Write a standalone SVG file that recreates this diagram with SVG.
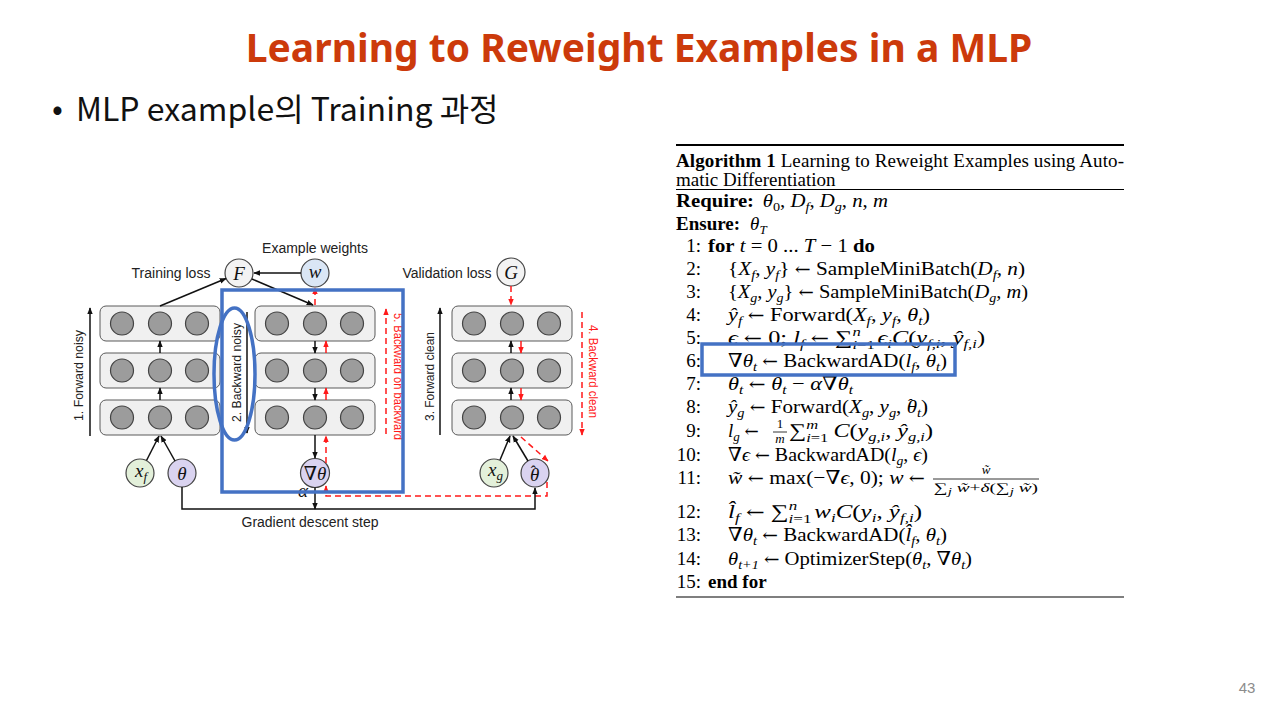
<svg xmlns="http://www.w3.org/2000/svg" xmlns:xlink="http://www.w3.org/1999/xlink" width="1280" height="720" viewBox="0 0 1280 720">
<defs>
<style>
.title{font-family:"Noto Sans","Noto Sans CJK KR",sans-serif;font-weight:bold;font-size:39px;fill:#cc3a0b}
.bul{font-family:"Noto Sans CJK KR","Noto Sans",sans-serif;font-size:32px;fill:#111}
.lbl{font-family:"Liberation Sans",Arial,sans-serif;font-size:14px;fill:#222}
.vl{font-family:"Liberation Sans",Arial,sans-serif;font-size:12px;fill:#222}
.vr{font-family:"Liberation Sans",Arial,sans-serif;font-size:12px;fill:#ff1a1a}
.lay{fill:#f0f0f0;stroke:#5a5a5a;stroke-width:1}
.neu{fill:#9c9c9c;stroke:#444;stroke-width:1.2}
.nd{stroke:#444;stroke-width:1.2}
.mt{font-family:"Liberation Serif","DejaVu Serif",serif;font-style:italic;font-size:19px;fill:#111}
.ln{fill:none;stroke:#111;stroke-width:1.5}
.rd{fill:none;stroke:#ff1a1a;stroke-width:1.5;stroke-dasharray:6 4}
.rs{fill:none;stroke:#ff1a1a;stroke-width:1.5}
.blue{fill:none;stroke:#4472c4;stroke-width:3.5}
.al{font-family:"Liberation Serif","DejaVu Serif",serif;font-size:19px;fill:#000}
.ar{font-family:"DejaVu Serif",serif;font-size:17px}
.b{font-weight:bold}
.i{font-style:italic}
.s{font-size:13px}
.rule{stroke:#000}
</style>
<marker id="ab" viewBox="0 0 10 10" refX="9" refY="5" markerWidth="7" markerHeight="7" markerUnits="userSpaceOnUse" orient="auto"><path d="M0,1 L10,5 L0,9 z" fill="#111"/></marker>
<marker id="ar" viewBox="0 0 10 10" refX="9" refY="5" markerWidth="7" markerHeight="7" markerUnits="userSpaceOnUse" orient="auto"><path d="M0,1 L10,5 L0,9 z" fill="#ff1a1a"/></marker>
<g id="layer">
<rect class="lay" x="0" y="0" width="120" height="35" rx="6"/>
<circle class="neu" cx="22" cy="17.5" r="11.5"/>
<circle class="neu" cx="60" cy="17.5" r="11.5"/>
<circle class="neu" cx="97" cy="17.5" r="11.5"/>
</g>
</defs>
<rect width="1280" height="720" fill="#fff"/>

<text class="title" x="639" y="62" text-anchor="middle">Learning to Reweight Examples in a MLP</text>
<text class="bul" x="52" y="120">•</text>
<text class="bul" x="76" y="121">MLP example의 Training 과정</text>

<!-- layers -->
<g id="left-l1"><use xlink:href="#layer" x="100" y="306"/></g>
<g id="left-l2"><use xlink:href="#layer" x="100" y="353"/></g>
<g id="left-l3"><use xlink:href="#layer" x="100" y="400"/></g>
<g id="mid-l1"><use xlink:href="#layer" x="255" y="306"/></g>
<g id="mid-l2"><use xlink:href="#layer" x="255" y="353"/></g>
<g id="mid-l3"><use xlink:href="#layer" x="255" y="400"/></g>
<g id="right-l1"><use xlink:href="#layer" x="452" y="306"/></g>
<g id="right-l2"><use xlink:href="#layer" x="452" y="353"/></g>
<g id="right-l3"><use xlink:href="#layer" x="452" y="400"/></g>

<!-- nodes -->
<g id="node-F"><circle class="nd" cx="239" cy="273" r="14" fill="#f3f3f3"/><text class="mt" x="239" y="279.5" text-anchor="middle">F</text></g>
<g id="node-w"><circle class="nd" cx="315" cy="273" r="14" fill="#dae6f5"/><text class="mt" x="315" y="278" text-anchor="middle">w</text></g>
<g id="node-G"><circle class="nd" cx="511" cy="272" r="14" fill="#f3f3f3"/><text class="mt" x="511" y="278.5" text-anchor="middle">G</text></g>
<g id="node-xf"><circle class="nd" cx="140" cy="473" r="14" fill="#e3f0da"/><text class="mt" x="135" y="477">x<tspan font-size="13" dy="4">f</tspan></text></g>
<g id="node-theta"><circle class="nd" cx="182" cy="473" r="14" fill="#dad3f0"/><text class="mt" x="182" y="479.5" text-anchor="middle">θ</text></g>
<g id="node-gradtheta"><circle class="nd" cx="315" cy="473" r="14.5" fill="#dad3f0"/><text class="mt" x="315" y="479.5" text-anchor="middle"><tspan font-style="normal">∇</tspan>θ</text></g>
<g id="node-xg"><circle class="nd" cx="494" cy="473" r="14" fill="#e3f0da"/><text class="mt" x="488" y="476">x<tspan font-size="13" dy="4">g</tspan></text></g>
<g id="node-thetahat"><circle class="nd" cx="535" cy="473" r="14" fill="#dad3f0"/><text class="mt" x="530" y="481">θ<tspan dx="-8.5" dy="-4" font-size="16" font-style="normal">ˆ</tspan></text></g>

<!-- labels -->
<text class="lbl" x="315" y="253" text-anchor="middle">Example weights</text>
<text class="lbl" x="171" y="278" text-anchor="middle">Training loss</text>
<text class="lbl" x="447" y="278" text-anchor="middle">Validation loss</text>
<text class="lbl" x="310" y="527" text-anchor="middle">Gradient descent step</text>
<text class="mt" x="303" y="497" font-size="13" text-anchor="middle">α</text>
<text class="vl" transform="translate(83,375.5) rotate(-90)" text-anchor="middle" textLength="91" lengthAdjust="spacingAndGlyphs">1. Forward noisy</text>
<text class="vl" transform="translate(241,372.5) rotate(-90)" text-anchor="middle" textLength="99" lengthAdjust="spacingAndGlyphs">2. Backward noisy</text>
<text class="vl" transform="translate(434,376.5) rotate(-90)" text-anchor="middle" textLength="89" lengthAdjust="spacingAndGlyphs">3. Forward clean</text>
<text class="vr" transform="translate(589,371.5) rotate(90)" text-anchor="middle" textLength="93" lengthAdjust="spacingAndGlyphs">4. Backward clean</text>
<text class="vr" transform="translate(393.5,376.5) rotate(90)" text-anchor="middle" textLength="127" lengthAdjust="spacingAndGlyphs">5. Backward on backward</text>

<!-- connectors -->
<g id="connectors">
<line class="ln" x1="90" y1="436" x2="90" y2="308" marker-end="url(#ab)"/>
<line class="ln" x1="247" y1="312" x2="247" y2="433" marker-end="url(#ab)"/>
<line class="ln" x1="440" y1="435" x2="440" y2="308" marker-end="url(#ab)"/>
<line class="rd" x1="386" y1="434" x2="386" y2="309" marker-end="url(#ar)"/>
<line class="rd" x1="582" y1="312" x2="582" y2="435" marker-end="url(#ar)"/>

<line class="ln" x1="301" y1="273" x2="254" y2="273" marker-end="url(#ab)"/>
<line class="ln" x1="160" y1="306" x2="226" y2="278.5" marker-end="url(#ab)"/>
<line class="ln" x1="252" y1="279" x2="313" y2="305" marker-end="url(#ab)"/>
<line class="rd" x1="315" y1="305" x2="315" y2="288" marker-end="url(#ar)" stroke-dasharray="4 3"/>

<line class="ln" x1="160" y1="353" x2="160" y2="341" marker-end="url(#ab)"/>
<line class="ln" x1="160" y1="400" x2="160" y2="388" marker-end="url(#ab)"/>
<line class="ln" x1="146.5" y1="460.5" x2="159" y2="436" marker-end="url(#ab)"/>
<line class="ln" x1="175" y1="461" x2="161" y2="436" marker-end="url(#ab)"/>

<line class="ln" x1="315" y1="341" x2="315" y2="353" marker-end="url(#ab)"/>
<line class="ln" x1="315" y1="388" x2="315" y2="400" marker-end="url(#ab)"/>
<line class="ln" x1="315" y1="435" x2="315" y2="458" marker-end="url(#ab)"/>
<line class="rs" x1="326" y1="353" x2="326" y2="341" marker-end="url(#ar)"/>
<line class="rs" x1="326" y1="400" x2="326" y2="388" marker-end="url(#ar)"/>
<line class="rd" x1="326" y1="463" x2="326" y2="436" marker-end="url(#ar)"/>
<path class="rd" d="M547,482 V496 H326 V486" marker-end="url(#ar)"/>

<line class="rd" x1="511" y1="286" x2="511" y2="305" marker-end="url(#ar)" stroke-dasharray="4 3"/>
<line class="ln" x1="511" y1="353" x2="511" y2="341" marker-end="url(#ab)"/>
<line class="ln" x1="511" y1="400" x2="511" y2="388" marker-end="url(#ab)"/>
<line class="rs" x1="521" y1="341" x2="521" y2="353" marker-end="url(#ar)"/>
<line class="rs" x1="521" y1="388" x2="521" y2="400" marker-end="url(#ar)"/>
<line class="ln" x1="500" y1="460" x2="510" y2="436" marker-end="url(#ab)"/>
<line class="ln" x1="528" y1="461" x2="513" y2="436" marker-end="url(#ab)"/>
<line class="rd" x1="521" y1="437" x2="548" y2="461" marker-end="url(#ar)"/>

<path class="ln" d="M182,487 V509 H535 V488" marker-end="url(#ab)"/>
<line class="ln" x1="315" y1="487.5" x2="315" y2="509" marker-end="url(#ab)"/>
</g>

<!-- highlight shapes -->
<rect class="blue" x="222" y="290" width="181" height="202"/>
<ellipse class="blue" cx="234.5" cy="374" rx="20.5" ry="66"/>

<!-- algorithm -->
<g id="algorithm">
<line class="rule" x1="676" y1="145" x2="1124" y2="145" stroke-width="2"/>
<line class="rule" x1="676" y1="189.5" x2="1124" y2="189.5" stroke-width="1.2"/>
<line class="rule" x1="676" y1="597" x2="1124" y2="597" stroke-width="1.2"/>
<text class="al" x="676" y="166.5" textLength="448"><tspan class="b">Algorithm 1</tspan> Learning to Reweight Examples using Auto-</text>
<text class="al" x="676" y="185.5">matic Differentiation</text>
<text class="al" x="676" y="207" textLength="212" lengthAdjust="spacingAndGlyphs"><tspan class="b">Require:</tspan><tspan dx="8" class="i">θ</tspan><tspan class="s" dy="4">0</tspan><tspan dy="-4">, </tspan><tspan class="i">D</tspan><tspan class="s i" dy="4">f</tspan><tspan dy="-4">, </tspan><tspan class="i">D</tspan><tspan class="s i" dy="4">g</tspan><tspan dy="-4">, </tspan><tspan class="i">n</tspan>, <tspan class="i">m</tspan></text>
<text class="al" x="676" y="230"><tspan class="b">Ensure:</tspan><tspan dx="10" class="i">θ</tspan><tspan class="s i" dy="4">T</tspan></text>

<g id="linenos">
<text class="al" x="701" y="252" text-anchor="end">1:</text>
<text class="al" x="701" y="275" text-anchor="end">2:</text>
<text class="al" x="701" y="298" text-anchor="end">3:</text>
<text class="al" x="701" y="321" text-anchor="end">4:</text>
<text class="al" x="701" y="344" text-anchor="end">5:</text>
<text class="al" x="701" y="367" text-anchor="end">6:</text>
<text class="al" x="701" y="390" text-anchor="end">7:</text>
<text class="al" x="701" y="413" text-anchor="end">8:</text>
<text class="al" x="701" y="437" text-anchor="end">9:</text>
<text class="al" x="701" y="461" text-anchor="end">10:</text>
<text class="al" x="701" y="484" text-anchor="end">11:</text>
<text class="al" x="701" y="518" text-anchor="end">12:</text>
<text class="al" x="701" y="541" text-anchor="end">13:</text>
<text class="al" x="701" y="565" text-anchor="end">14:</text>
<text class="al" x="701" y="588" text-anchor="end">15:</text>
</g>

<text class="al" x="708" y="252" textLength="167" lengthAdjust="spacingAndGlyphs"><tspan class="b">for</tspan> <tspan class="i">t</tspan> = 0 ... <tspan class="i">T</tspan> − 1 <tspan class="b">do</tspan></text>
<text class="al" x="728" y="275" textLength="297" lengthAdjust="spacingAndGlyphs">{<tspan class="i">X</tspan><tspan class="s i" dy="4">f</tspan><tspan dy="-4">, </tspan><tspan class="i">y</tspan><tspan class="s i" dy="4">f</tspan><tspan dy="-4">} </tspan><tspan class="ar">←</tspan> SampleMiniBatch(<tspan class="i">D</tspan><tspan class="s i" dy="4">f</tspan><tspan dy="-4">, </tspan><tspan class="i">n</tspan>)</text>
<text class="al" x="728" y="298" textLength="300" lengthAdjust="spacingAndGlyphs">{<tspan class="i">X</tspan><tspan class="s i" dy="4">g</tspan><tspan dy="-4">, </tspan><tspan class="i">y</tspan><tspan class="s i" dy="4">g</tspan><tspan dy="-4">} </tspan><tspan class="ar">←</tspan> SampleMiniBatch(<tspan class="i">D</tspan><tspan class="s i" dy="4">g</tspan><tspan dy="-4">, </tspan><tspan class="i">m</tspan>)</text>
<text class="al" x="728" y="321" textLength="202" lengthAdjust="spacingAndGlyphs"><tspan class="i">ŷ</tspan><tspan class="s i" dy="4">f</tspan><tspan dy="-4"> </tspan><tspan class="ar">←</tspan> Forward(<tspan class="i">X</tspan><tspan class="s i" dy="4">f</tspan><tspan dy="-4">, </tspan><tspan class="i">y</tspan><tspan class="s i" dy="4">f</tspan><tspan dy="-4">, </tspan><tspan class="i">θ</tspan><tspan class="s i" dy="4">t</tspan><tspan dy="-4">)</tspan></text>
<text class="al" x="728" y="344" textLength="257" lengthAdjust="spacingAndGlyphs"><tspan class="i">ϵ</tspan> <tspan class="ar">←</tspan> 0; <tspan class="i">l</tspan><tspan class="s i" dy="4">f</tspan><tspan dy="-4"> </tspan><tspan class="ar">←</tspan> ∑<tspan class="s i" dy="5">i</tspan><tspan class="s">=1</tspan><tspan class="s i" dx="-17.4" dy="-13">n</tspan><tspan class="i" dx="13" dy="8">ϵ</tspan><tspan class="s i" dy="4">i</tspan><tspan class="i" dy="-4">C</tspan>(<tspan class="i">y</tspan><tspan class="s i" dy="4">f,i</tspan><tspan dy="-4">, </tspan><tspan class="i">ŷ</tspan><tspan class="s i" dy="4">f,i</tspan><tspan dy="-4">)</tspan></text>
<text class="al" x="728" y="367" textLength="219" lengthAdjust="spacingAndGlyphs">∇<tspan class="i">θ</tspan><tspan class="s i" dy="4">t</tspan><tspan dy="-4"> </tspan><tspan class="ar">←</tspan> BackwardAD(<tspan class="i">l</tspan><tspan class="s i" dy="4">f</tspan><tspan dy="-4">, </tspan><tspan class="i">θ</tspan><tspan class="s i" dy="4">t</tspan><tspan dy="-4">)</tspan></text>
<text class="al" x="728" y="390" textLength="125" lengthAdjust="spacingAndGlyphs"><tspan class="i">θ</tspan><tspan class="s i" dy="4">t</tspan><tspan dy="-4"> </tspan><tspan class="ar">←</tspan> <tspan class="i">θ</tspan><tspan class="s i" dy="4">t</tspan><tspan dy="-4"> − </tspan><tspan class="i">α</tspan>∇<tspan class="i">θ</tspan><tspan class="s i" dy="4">t</tspan></text>
<text class="al" x="728" y="413" textLength="200" lengthAdjust="spacingAndGlyphs"><tspan class="i">ŷ</tspan><tspan class="s i" dy="4">g</tspan><tspan dy="-4"> </tspan><tspan class="ar">←</tspan> Forward(<tspan class="i">X</tspan><tspan class="s i" dy="4">g</tspan><tspan dy="-4">, </tspan><tspan class="i">y</tspan><tspan class="s i" dy="4">g</tspan><tspan dy="-4">, </tspan><tspan class="i">θ</tspan><tspan dx="-8" dy="-4" font-size="15">ˆ</tspan><tspan class="s i" dx="3" dy="8">t</tspan><tspan dy="-4">)</tspan></text>
<text class="al" x="728" y="437"><tspan class="i">l</tspan><tspan class="s i" dy="4">g</tspan><tspan dy="-4"> </tspan><tspan class="ar">←</tspan></text>
<text class="al s" x="780" y="428" text-anchor="middle">1</text>
<line class="rule" x1="773" y1="432" x2="787" y2="432" stroke-width="0.8"/>
<text class="al s i" x="780" y="443" text-anchor="middle">m</text>
<text class="al" x="789" y="437" textLength="144" lengthAdjust="spacingAndGlyphs">∑<tspan class="s i" dy="5">i</tspan><tspan class="s">=1</tspan><tspan class="s i" dx="-17.4" dy="-13">m</tspan><tspan class="i" dx="12" dy="8">C</tspan>(<tspan class="i">y</tspan><tspan class="s i" dy="4">g,i</tspan><tspan dy="-4">, </tspan><tspan class="i">ŷ</tspan><tspan class="s i" dy="4">g,i</tspan><tspan dy="-4">)</tspan></text>
<text class="al" x="728" y="461" textLength="200" lengthAdjust="spacingAndGlyphs">∇<tspan class="i">ϵ</tspan> <tspan class="ar">←</tspan> BackwardAD(<tspan class="i">l</tspan><tspan class="s i" dy="4">g</tspan><tspan dy="-4">, </tspan><tspan class="i">ϵ</tspan>)</text>
<text class="al" x="728" y="484" textLength="197" lengthAdjust="spacingAndGlyphs"><tspan class="i">w̃</tspan> <tspan class="ar">←</tspan> max(−∇<tspan class="i">ϵ</tspan>, 0); <tspan class="i">w</tspan> <tspan class="ar">←</tspan></text>
<text class="al s i" x="986" y="474" text-anchor="middle">w̃</text>
<line class="rule" x1="933" y1="479" x2="1039" y2="479" stroke-width="0.8"/>
<text class="al s" x="986" y="492" text-anchor="middle" textLength="104" lengthAdjust="spacingAndGlyphs">∑<tspan class="i" font-size="10" dy="3">j</tspan><tspan class="i" dy="-3"> w̃</tspan>+<tspan class="i">δ</tspan>(∑<tspan class="i" font-size="10" dy="3">j</tspan><tspan class="i" dy="-3"> w̃</tspan>)</text>
<text class="al" x="728" y="518" textLength="194" lengthAdjust="spacingAndGlyphs"><tspan class="i">l̂</tspan><tspan class="s i" dy="4">f</tspan><tspan dy="-4"> </tspan><tspan class="ar">←</tspan> ∑<tspan class="s i" dy="5">i</tspan><tspan class="s">=1</tspan><tspan class="s i" dx="-17.4" dy="-13">n</tspan><tspan class="i" dx="13" dy="8">w</tspan><tspan class="s i" dy="4">i</tspan><tspan class="i" dy="-4">C</tspan>(<tspan class="i">y</tspan><tspan class="s i" dy="4">i</tspan><tspan dy="-4">, </tspan><tspan class="i">ŷ</tspan><tspan class="s i" dy="4">f,i</tspan><tspan dy="-4">)</tspan></text>
<text class="al" x="728" y="541" textLength="219" lengthAdjust="spacingAndGlyphs">∇<tspan class="i">θ</tspan><tspan class="s i" dy="4">t</tspan><tspan dy="-4"> </tspan><tspan class="ar">←</tspan> BackwardAD(<tspan class="i">l̂</tspan><tspan class="s i" dy="4">f</tspan><tspan dy="-4">, </tspan><tspan class="i">θ</tspan><tspan class="s i" dy="4">t</tspan><tspan dy="-4">)</tspan></text>
<text class="al" x="728" y="565" textLength="244" lengthAdjust="spacingAndGlyphs"><tspan class="i">θ</tspan><tspan class="s i" dy="4">t+1</tspan><tspan dy="-4"> </tspan><tspan class="ar">←</tspan> OptimizerStep(<tspan class="i">θ</tspan><tspan class="s i" dy="4">t</tspan><tspan dy="-4">, ∇</tspan><tspan class="i">θ</tspan><tspan class="s i" dy="4">t</tspan><tspan dy="-4">)</tspan></text>
<text class="al" x="708" y="588"><tspan class="b">end for</tspan></text>
<rect class="blue" x="702" y="344" width="253" height="31" stroke-width="3"/>
</g>

<text x="1247" y="693" text-anchor="middle" font-family="Liberation Sans,Arial,sans-serif" font-size="15" fill="#8c8c8c">43</text>
</svg>
